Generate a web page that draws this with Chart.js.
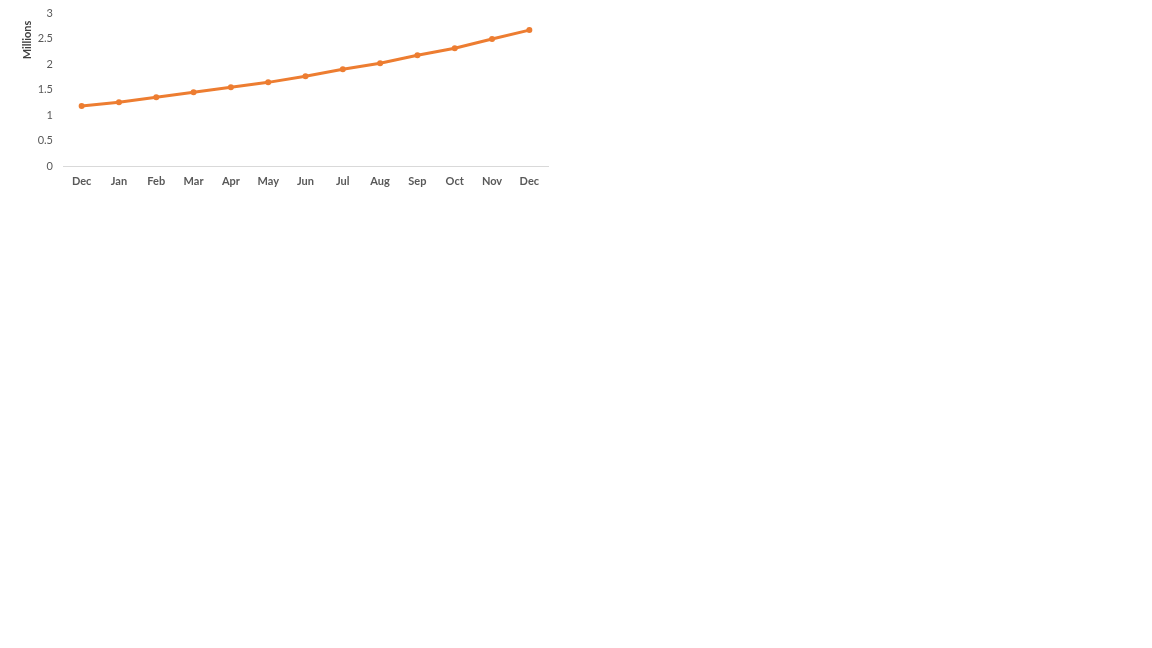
<!DOCTYPE html>
<html>
<head>
<meta charset="utf-8">
<script src="https://cdn.jsdelivr.net/npm/chart.js@4/dist/chart.umd.min.js"></script>
<style>
html,body{margin:0;padding:0;background:#fff;}
#wrap{position:absolute;left:0;top:0;width:1152px;height:648px;}
</style>
</head>
<body>
<div id="wrap"><canvas id="c"></canvas></div>
<script>
const categories = ['Dec','Jan','Feb','Mar','Apr','May','Jun','Jul','Aug','Sep','Oct','Nov','Dec'];
const values = [1.175,1.248,1.346,1.445,1.543,1.64,1.76,1.897,2.015,2.17,2.31,2.49,2.665];
const yTicks = [0,0.5,1,1.5,2,2.5,3];
const unitLabel = 'Millions';

const textColor = '#595959';
const fontFam = 'Lato, "Open Sans", sans-serif';

const unitPlugin = {
  id: 'unitLabel',
  afterDraw(chart) {
    const ctx = chart.ctx;
    ctx.save();
    ctx.translate(27, 40);
    ctx.rotate(-Math.PI/2);
    ctx.font = 'bold 11px Lato, sans-serif';
    ctx.fillStyle = '#404040';
    ctx.textAlign = 'center';
    ctx.textBaseline = 'middle';
    ctx.fillText(unitLabel, 0, 0);
    ctx.restore();
  }
};

new Chart(document.getElementById('c'), {
  type: 'line',
  data: {
    labels: categories,
    datasets: [{
      data: values,
      borderColor: '#ED7D31',
      backgroundColor: '#ED7D31',
      borderWidth: 3,
      pointRadius: 3,
      pointBorderWidth: 0,
      pointBackgroundColor: '#ED7D31',
      tension: 0,
      fill: false
    }]
  },
  options: {
    responsive: true,
    maintainAspectRatio: false,
    animation: false,
    devicePixelRatio: 1,
    layout: { padding: { left: 0, top: 13, right: 604, bottom: 0 } },
    plugins: { legend: { display: false }, tooltip: { enabled: false } },
    scales: {
      x: {
        offset: true,
        grid: { display: false, drawTicks: false },
        border: { display: true, color: '#D9D9D9', width: 1 },
        ticks: { color: textColor, font: { family: fontFam, size: 11, weight: 'bold' }, padding: 9, maxRotation: 0, autoSkip: false },
        afterFit(scale) { scale.height = 648 - 166; }
      },
      y: {
        min: 0, max: 3,
        afterBuildTicks(scale) { scale.ticks = yTicks.map(v => ({ value: v })); },
        grid: { display: false, drawTicks: false },
        border: { display: false },
        ticks: { color: textColor, font: { family: fontFam, size: 11 }, padding: 10,
                 callback: (v) => String(v) },
        afterFit(scale) { scale.width = 63; scale.paddingTop = 0; scale.paddingBottom = 0; }
      }
    }
  },
  plugins: [unitPlugin]
});
</script>
</body>
</html>
